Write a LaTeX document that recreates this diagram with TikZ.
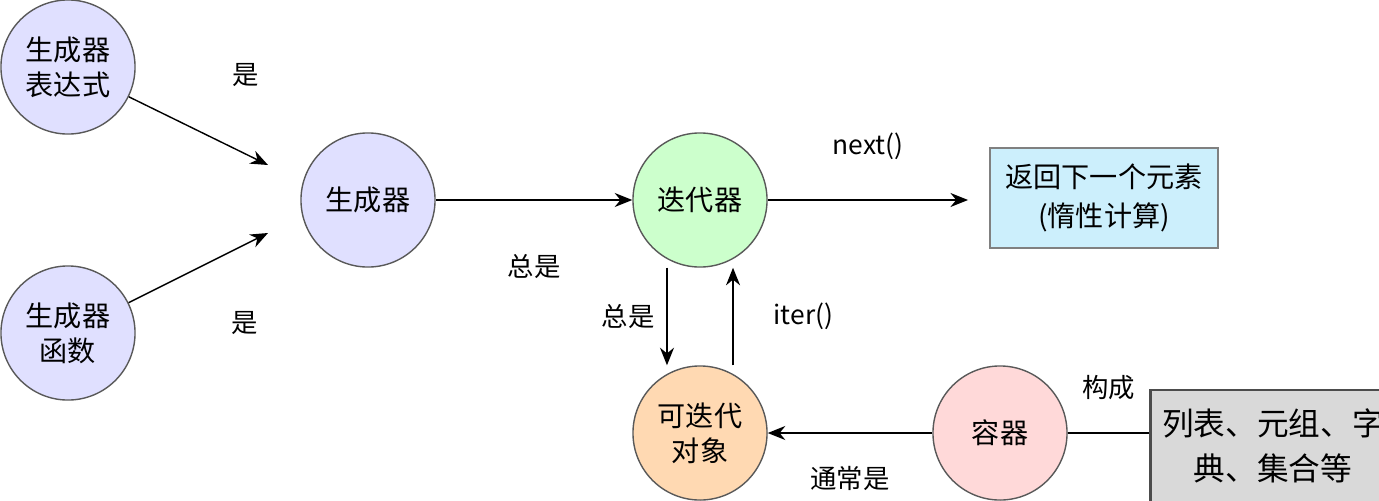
\documentclass[tikz,border=0pt]{standalone}
\usepackage{fontspec}
\setmainfont{Noto Sans CJK SC}
\usetikzlibrary{arrows.meta}
\tikzset{
    ball/.style = {circle, draw = gray!70!black, minimum size = 1.34cm, inner sep = 0pt, align = center, font = \fontsize{8}{10}\selectfont},
    tag/.style = {font = \fontsize{7.5}{9}\selectfont},
    link/.style = {-{Stealth[length = 5pt, width = 4pt]}, thin}
}
\begin{document}
\begin{tikzpicture}[x = 0.01cm, y = -0.01cm]
    \useasboundingbox (0,0) rectangle (1379,500);
    
    \node[ball, fill = blue!12] (genexpr) at (68,67) {生成器\\表达式};
    \node[ball, fill = blue!12] (genfunc) at (68,333) {生成器\\函数};
    \node[ball, fill = blue!12] (gen) at (368,200) {生成器};
    \node[ball, fill = green!20] (iter) at (700,200) {迭代器};
    \node[ball, fill = orange!30] (able) at (700,433) {可迭代\\对象};
    \node[ball, fill = red!15] (box) at (1000,433) {容器};
    
    \node[draw = gray, fill = cyan!20, minimum width = 2.28cm, minimum height = 1cm, align = center, font = \fontsize{8}{11}\selectfont] (next) at (1104,198) {返回下一个元素\\(惰性计算)};
    \node[draw = gray!60!black, thick, fill = gray!30, minimum width = 2.16cm, minimum height = 1.12cm, align = center, font = \fontsize{9}{13}\selectfont] (kinds) at (1273,446) {列表、元组、字\\典、集合等};
    
    \coordinate (up) at (268,165);
    \coordinate (down) at (268,233);
    
    \draw[link] (genexpr) -- (up) node[tag, pos = 0.45, above right = 8pt] {是};
    \draw[link] (genfunc) -- (down) node[tag, pos = 0.45, below right = 8pt] {是};
    \draw[link] (gen) -- (iter) node[tag, midway, below = 12pt] {总是};
    \draw[link] (iter) -- (968,200) node[tag, midway, above = 8pt] {next()};
    \draw[link] ([xshift = -0.33cm]iter.south) -- ([xshift = -0.33cm]able.north) node[tag, midway, left] {总是};
    \draw[link] ([xshift = 0.33cm]able.north) -- ([xshift = 0.33cm]iter.south) node[tag, midway, right = 8pt] {iter()};
    \draw[link] (box) -- (able) node[tag, midway, below = 6pt] {通常是};
    \draw (box) -- (box -| kinds.west) node[tag, midway, above = 6pt] {构成};
\end{tikzpicture}
\end{document}
